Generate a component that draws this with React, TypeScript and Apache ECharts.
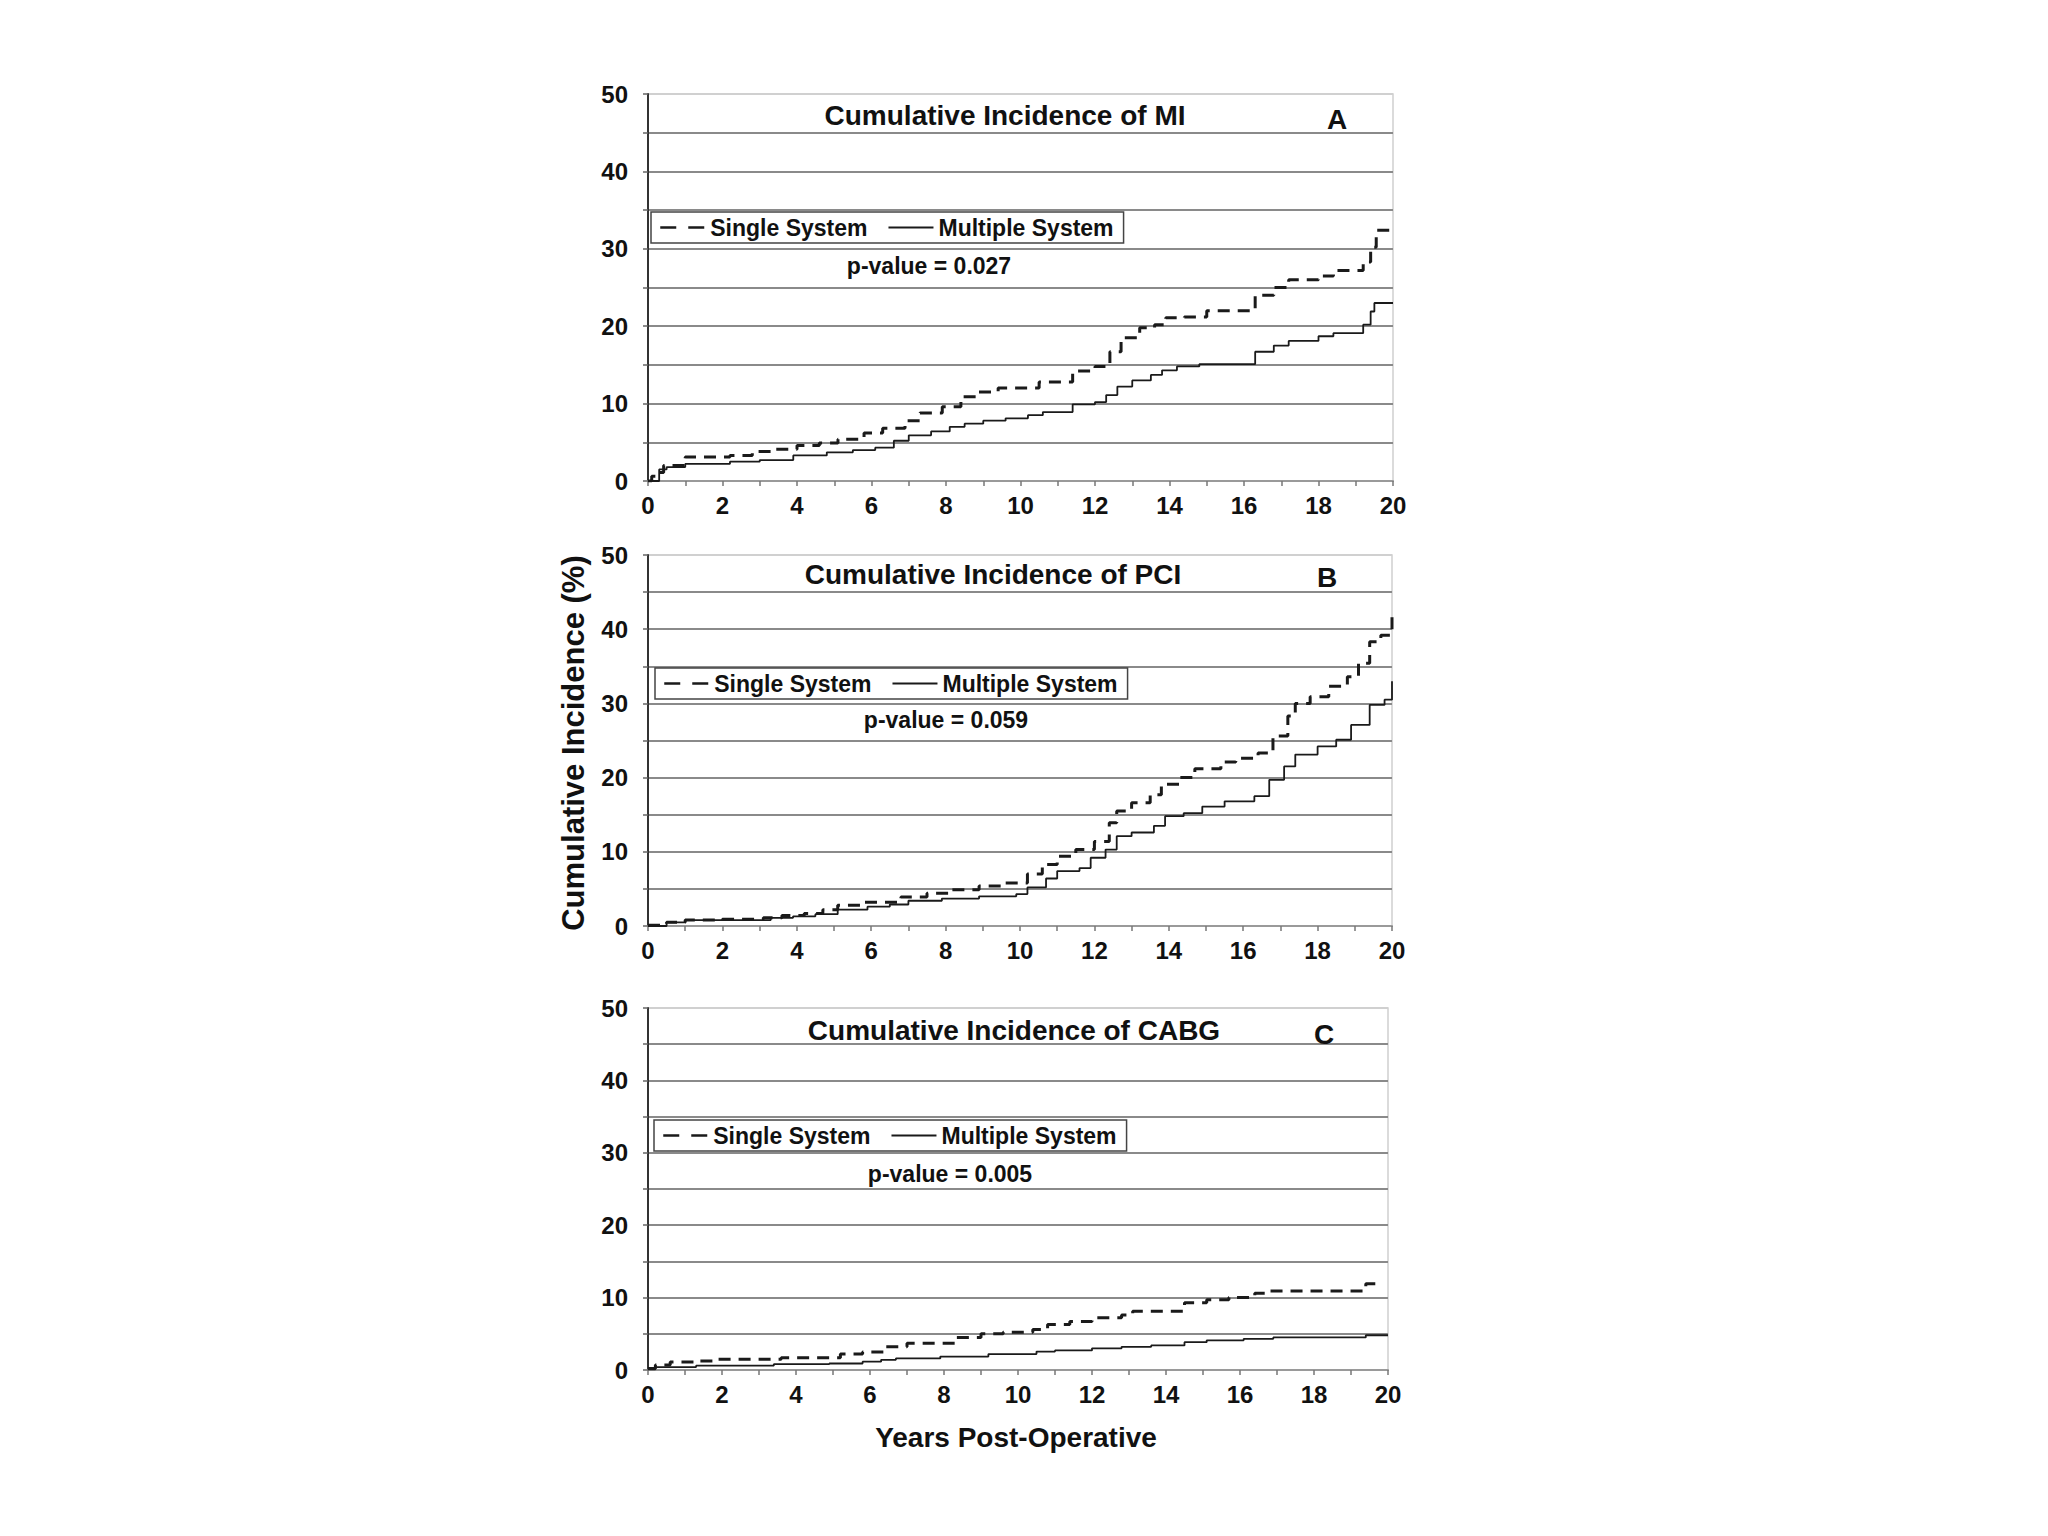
import { useEffect, useRef } from 'react'
import * as echarts from 'echarts'

// years post-op and cumulative incidence (%) at each step
const miSingleYears = [0, 0.1, 0.2, 0.42, 1.0, 2.2, 2.8, 3.4, 4.0, 4.6, 5.1, 5.8, 6.3, 6.9, 7.3, 7.9, 8.4, 8.8, 9.4, 10.5, 11.4, 12.0, 12.4, 12.7, 13.2, 13.6, 13.9, 14.4, 15.0, 16.3, 16.8, 17.2, 18.0, 18.4, 19.2, 19.4, 19.55, 20]
const miSingleVals = [0, 0.6, 1.1, 2.0, 3.1, 3.3, 3.8, 4.1, 4.6, 4.9, 5.4, 6.2, 6.8, 7.8, 8.8, 9.6, 10.9, 11.5, 12.0, 12.8, 14.2, 14.8, 16.7, 18.5, 19.8, 20.2, 21.1, 21.2, 22.0, 24.0, 25.0, 26.0, 26.5, 27.2, 28.3, 30.2, 32.4, 32.4]
const miMultiYears = [0, 0.3, 0.5, 1.0, 2.2, 3.0, 3.9, 4.8, 5.5, 6.1, 6.6, 7.0, 7.6, 8.1, 8.5, 9.0, 9.6, 10.2, 10.6, 11.4, 12.0, 12.3, 12.6, 13.0, 13.5, 13.8, 14.2, 14.8, 16.3, 16.8, 17.2, 18.0, 18.4, 19.2, 19.4, 19.5, 20]
const miMultiVals = [0, 1.5, 1.8, 2.2, 2.5, 2.7, 3.3, 3.7, 4.0, 4.3, 5.2, 5.9, 6.4, 7.0, 7.4, 7.8, 8.1, 8.5, 8.9, 9.9, 10.2, 11.1, 12.2, 13.0, 13.7, 14.3, 14.8, 15.1, 16.7, 17.5, 18.1, 18.7, 19.1, 20.2, 21.9, 23.0, 23.0]

const pciSingleYears = [0, 0.5, 1.0, 2.0, 3.1, 3.6, 4.2, 4.7, 5.1, 5.8, 6.8, 7.5, 8.1, 8.9, 9.5, 10.2, 10.6, 11.0, 11.5, 12.0, 12.4, 12.6, 13.0, 13.5, 13.8, 14.3, 14.7, 15.4, 15.8, 16.4, 16.8, 17.2, 17.4, 17.8, 18.3, 18.8, 19.1, 19.4, 19.7, 20]
const pciSingleVals = [0.1, 0.5, 0.8, 0.9, 1.1, 1.4, 1.7, 2.2, 2.8, 3.2, 3.9, 4.4, 4.9, 5.4, 5.8, 7.0, 8.3, 9.4, 10.3, 11.4, 13.9, 15.5, 16.6, 17.7, 19.1, 20.0, 21.2, 22.1, 22.6, 23.3, 25.6, 28.3, 30.0, 30.9, 32.3, 33.6, 35.4, 38.3, 39.2, 42.4]
const pciMultiYears = [0, 0.5, 1.0, 3.3, 3.9, 4.5, 5.1, 5.9, 6.5, 7.0, 7.9, 8.9, 9.9, 10.2, 10.7, 11.0, 11.6, 11.9, 12.3, 12.6, 13.0, 13.6, 13.9, 14.4, 14.9, 15.5, 16.3, 16.7, 17.1, 17.4, 18.0, 18.5, 18.9, 19.4, 19.8, 20]
const pciMultiVals = [0, 0.5, 0.8, 1.1, 1.3, 1.6, 2.2, 2.6, 2.9, 3.4, 3.7, 4.0, 4.3, 5.2, 6.4, 7.4, 7.8, 9.2, 10.3, 12.1, 12.6, 13.5, 14.8, 15.2, 16.1, 16.8, 17.5, 19.7, 21.5, 23.1, 24.2, 25.1, 27.1, 29.8, 30.5, 33.0]

const cabgSingleYears = [0, 0.2, 0.6, 1.3, 1.9, 3.6, 5.2, 5.8, 6.4, 7.0, 8.3, 9.0, 9.6, 10.4, 10.8, 11.4, 12.0, 12.8, 13.1, 14.5, 15.1, 15.7, 16.4, 16.7, 19.4, 19.8]
const cabgSingleVals = [0.2, 0.7, 1.1, 1.25, 1.5, 1.7, 2.2, 2.5, 3.2, 3.7, 4.5, 5.0, 5.2, 5.6, 6.3, 6.7, 7.2, 7.6, 8.1, 9.3, 9.7, 10.0, 10.6, 10.9, 11.9, 11.9]
const cabgMultiYears = [0, 0.2, 1.3, 3.4, 4.9, 5.8, 6.3, 6.7, 7.9, 9.2, 10.5, 11.0, 12.0, 12.8, 13.6, 14.5, 15.1, 16.1, 16.9, 19.4, 20]
const cabgMultiVals = [0.1, 0.4, 0.6, 0.8, 0.9, 1.15, 1.4, 1.6, 1.85, 2.2, 2.55, 2.7, 3.0, 3.2, 3.4, 3.85, 4.1, 4.3, 4.5, 4.8, 4.8]

const panelTitles = ['Cumulative Incidence of MI', 'Cumulative Incidence of PCI', 'Cumulative Incidence of CABG']
const panelLetters = ['A', 'B', 'C']
const pValues = ['p-value = 0.027', 'p-value = 0.059', 'p-value = 0.005']
const seriesNames = ['Single System', 'Multiple System']
const yTicks = [0, 10, 20, 30, 40, 50]

const FONT = '"Liberation Sans", Arial, sans-serif'
const INK = '#111'

// panel layout in px
const GRIDS = [
  { left: 648, top: 94, width: 745, height: 387 },
  { left: 648, top: 555, width: 744, height: 371 },
  { left: 648, top: 1008, width: 740, height: 362 },
]
const TITLE_POS = [[1005, 115], [993, 574], [1014, 1030]]
const LETTER_POS = [[1337, 119], [1327, 577], [1324, 1034]]
const PVAL_POS = [[929, 266], [946, 720], [950, 1174]]
const LEGEND_POS = [[651, 212], [655, 668], [654, 1120]]

const pairs = (xs: number[], ys: number[]) => xs.map((x, i) => [x, ys[i]])

const PANELS = [
  [pairs(miSingleYears, miSingleVals), pairs(miMultiYears, miMultiVals)],
  [pairs(pciSingleYears, pciSingleVals), pairs(pciMultiYears, pciMultiVals)],
  [pairs(cabgSingleYears, cabgSingleVals), pairs(cabgMultiYears, cabgMultiVals)],
]

export default function App() {
  const ref = useRef<HTMLDivElement | null>(null)

  useEffect(() => {
    document.body.style.margin = '0'
    if (!ref.current) return
    const chart = echarts.init(ref.current, undefined, { renderer: 'svg' })

    const splitColors = Array.from({ length: 11 }, (_, i) => (i === 10 ? '#d0d0d0' : '#8a8a8a'))

    const grid = GRIDS.map((g) => ({ ...g, show: true, borderColor: '#cfcfcf', borderWidth: 1.5, backgroundColor: 'transparent' }))

    const xAxis = GRIDS.map((_, i) => ({
      type: 'value',
      gridIndex: i,
      min: 0,
      max: 20,
      interval: 2,
      axisLine: { lineStyle: { color: '#9a9a9a', width: 2 } },
      axisTick: { show: true, length: 5, lineStyle: { color: '#777', width: 1.5 } },
      minorTick: { show: true, splitNumber: 2, length: 5, lineStyle: { color: '#777', width: 1.5 } },
      splitLine: { show: false },
      axisLabel: { color: INK, fontSize: 24, fontWeight: 'bold', fontFamily: FONT, margin: 12 },
    }))

    const yAxis = GRIDS.map((_, i) => ({
      type: 'value',
      gridIndex: i,
      min: 0,
      max: 50,
      interval: 5,
      axisLine: { show: true, lineStyle: { color: '#333', width: 2 } },
      axisTick: { show: true, length: 5, lineStyle: { color: '#666', width: 1.5 } },
      splitLine: { show: true, lineStyle: { color: splitColors, width: 2 } },
      axisLabel: {
        color: INK,
        fontSize: 24,
        fontWeight: 'bold',
        fontFamily: FONT,
        margin: 20,
        formatter: (v: number) => (yTicks.includes(v) ? String(v) : ''),
      },
    }))

    const series: any[] = []
    PANELS.forEach((panel, i) => {
      series.push({
        name: seriesNames[0],
        type: 'line',
        step: 'end',
        xAxisIndex: i,
        yAxisIndex: i,
        data: panel[0],
        symbol: 'none',
        showSymbol: false,
        lineStyle: { color: '#1a1a1a', width: 3, type: [12, 8] },
        itemStyle: { color: '#1a1a1a' },
      })
      series.push({
        name: seriesNames[1],
        type: 'line',
        step: 'end',
        xAxisIndex: i,
        yAxisIndex: i,
        data: panel[1],
        symbol: 'none',
        showSymbol: false,
        lineStyle: { color: '#1a1a1a', width: 1.8, type: 'solid' },
        itemStyle: { color: '#1a1a1a' },
      })
    })

    const legend = LEGEND_POS.map(([left, top]) => ({
      left,
      top,
      orient: 'horizontal',
      data: [
        { name: seriesNames[0], lineStyle: { type: [16, 12], width: 2.5 } },
        { name: seriesNames[1] },
      ],
      itemWidth: 45,
      itemHeight: 14,
      itemGap: 20,
      padding: [4, 10, 4, 8],
      borderColor: '#444',
      borderWidth: 1.5,
      borderRadius: 0,
      backgroundColor: '#fff',
      selectedMode: false,
      // hide the marker dot, keep only the line sample
      itemStyle: { color: 'rgba(0,0,0,0)', borderColor: 'rgba(0,0,0,0)', borderWidth: 0 },
      textStyle: { color: INK, fontSize: 23, fontWeight: 'bold', fontFamily: FONT },
    }))

    const txt = (x: number, y: number, text: string, size: number, extra: object = {}) => ({
      type: 'text',
      x,
      y,
      z: 10,
      style: {
        text,
        fill: INK,
        font: `bold ${size}px ${FONT}`,
        textAlign: 'center',
        textVerticalAlign: 'middle',
      },
      ...extra,
    })

    const graphic: any[] = []
    panelTitles.forEach((t, i) => {
      graphic.push(txt(TITLE_POS[i][0], TITLE_POS[i][1], t, 28))
      graphic.push(txt(LETTER_POS[i][0], LETTER_POS[i][1], panelLetters[i], 28))
      graphic.push(txt(PVAL_POS[i][0], PVAL_POS[i][1], pValues[i], 23))
    })
    graphic.push(txt(573, 743, 'Cumulative Incidence (%)', 31, { rotation: Math.PI / 2 }))
    graphic.push(txt(1016, 1437, 'Years Post-Operative', 28))

    chart.setOption({
      animation: false,
      backgroundColor: '#fff',
      grid,
      xAxis,
      yAxis,
      legend,
      series,
      graphic,
    })

    return () => chart.dispose()
  }, [])

  return <div ref={ref} style={{ width: 2048, height: 1536 }} />
}
